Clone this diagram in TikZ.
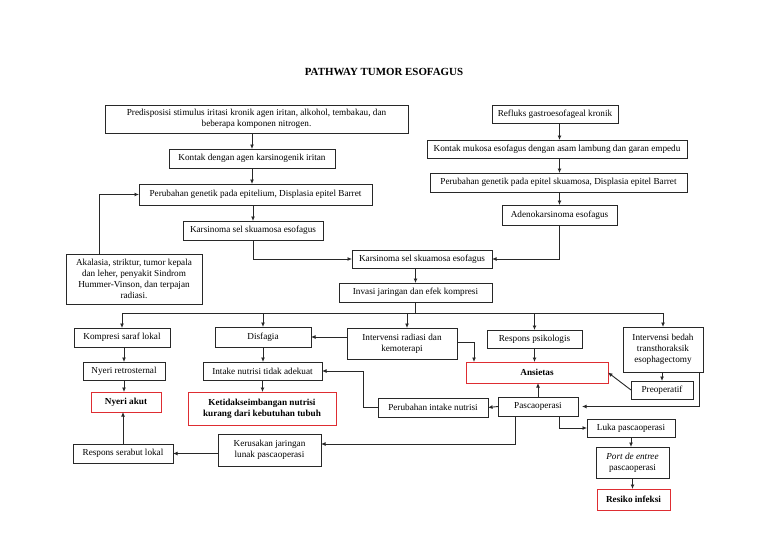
\documentclass[tikz,border=0pt]{standalone}
\usepackage{fontspec}
\setmainfont{Liberation Serif}
\usetikzlibrary{arrows.meta,calc}
\definecolor{redbox}{RGB}{222,45,50}
\definecolor{ln}{RGB}{40,40,40}
\begin{document}
\begin{tikzpicture}[x=1pt,y=-1pt,
  box/.style={draw=ln,line width=0.9pt,rectangle,inner sep=0pt,outer sep=0pt,align=center,font=\fontsize{9.2}{11}\selectfont},
  rbox/.style={box,draw=redbox,font=\fontsize{9.2}{11}\selectfont\bfseries},
  arr/.style={draw=ln,line width=0.9pt,-{Latex[length=4.5pt,width=4pt]}},
  ln/.style={draw=ln,line width=0.9pt}]
\useasboundingbox (0,0) rectangle (768,543);
\fill[white] (0,0) rectangle (768,543);
\node[font=\fontsize{10.9}{13}\selectfont\bfseries] (title) at (384,72) {PATHWAY TUMOR ESOFAGUS};
% left chain
\node[box,minimum width=303,minimum height=28] (A) at (256.5,119) {Predisposisi stimulus iritasi kronik agen iritan, alkohol, tembakau, dan\\beberapa komponen nitrogen.};
\node[box,minimum width=166,minimum height=19] (B) at (252,158.5) {Kontak dengan agen karsinogenik iritan};
\node[box,minimum width=233,minimum height=21] (C) at (255.5,194.5) {Perubahan genetik pada epitelium, Displasia epitel Barret};
\node[box,minimum width=140,minimum height=19] (D) at (253,230.5) {Karsinoma sel skuamosa esofagus};
\node[box,minimum width=136,minimum height=50] (E) at (134,279) {Akalasia, striktur, tumor kepala\\dan leher, penyakit Sindrom\\Hummer-Vinson, dan terpajan\\radiasi.};
% right chain
\node[box,minimum width=126,minimum height=18] (H) at (555,114) {Refluks gastroesofageal kronik};
\node[box,minimum width=260,minimum height=18] (I) at (557,149) {Kontak mukosa esofagus dengan asam lambung dan garan empedu};
\node[box,minimum width=257,minimum height=19] (J) at (558.5,182.5) {Perubahan genetik pada epitel skuamosa, Displasia epitel Barret};
\node[box,minimum width=115,minimum height=20] (K) at (559.5,215) {Adenokarsinoma esofagus};
% middle
\node[box,minimum width=140,minimum height=18] (F) at (422,259) {Karsinoma sel skuamosa esofagus};
\node[box,minimum width=153,minimum height=19] (G) at (415.5,292.5) {Invasi jaringan dan efek kompresi};
% row
\node[box,minimum width=96,minimum height=19] (L1) at (122,337.5) {Kompresi saraf lokal};
\node[box,minimum width=96,minimum height=20] (L2) at (263,337) {Disfagia};
\node[box,minimum width=110,minimum height=31] (L3) at (402,343.5) {Intervensi radiasi dan\\kemoterapi};
\node[box,minimum width=95,minimum height=18] (L4) at (534.5,339) {Respons psikologis};
\node[box,minimum width=80,minimum height=45] (L5) at (663,349.5) {Intervensi bedah\\transthoraksik\\esophagectomy};
% lower
\node[box,minimum width=82,minimum height=18] (NR) at (124,371) {Nyeri retrosternal};
\node[rbox,minimum width=70,minimum height=20] (NA) at (126,402) {Nyeri akut};
\node[box,minimum width=100,minimum height=19] (RS) at (123,453.5) {Respons serabut lokal};
\node[box,minimum width=119,minimum height=18] (IN) at (262.5,371) {Intake nutrisi tidak adekuat};
\node[rbox,minimum width=148,minimum height=33] (KT) at (262,408.5) {Ketidakseimbangan nutrisi\\kurang dari kebutuhan tubuh};
\node[box,minimum width=103,minimum height=32] (KR) at (269.5,450) {Kerusakan jaringan\\lunak pascaoperasi};
\node[rbox,minimum width=142,minimum height=21] (AN) at (537,372.5) {Ansietas};
\node[box,minimum width=62,minimum height=18] (PR) at (662,390) {Preoperatif};
\node[box,minimum width=80,minimum height=19] (PA) at (538,406.5) {Pascaoperasi};
\node[box,minimum width=110,minimum height=19] (PI) at (433,407.5) {Perubahan intake nutrisi};
\node[box,minimum width=88,minimum height=18] (LU) at (631,428) {Luka pascaoperasi};
\node[box,minimum width=73,minimum height=31] (PO) at (632.5,462.5) {\textit{Port de entree}\\pascaoperasi};
\node[rbox,minimum width=73,minimum height=21] (RI) at (633.5,499.5) {Resiko infeksi};
% connectors left chain
\draw[arr] (B.north |- A.south) -- (B.north);
\draw[arr] (B.south) -- (B.south |- C.north);
\draw[arr] (D.north |- C.south) -- (D.north);
\draw[arr] (D.south) |- (F.west);
\draw[arr] ([xshift=-35pt]E.north) |- (C.west);
% right chain
\draw[arr] (K.north |- H.south) -- (K.north |- I.north);
\draw[arr] (K.north |- I.south) -- (K.north |- J.north);
\draw[arr] (K.north |- J.south) -- (K.north);
\draw[arr] (K.south) |- (F.east);
\draw[arr] (G.north |- F.south) -- (G.north);
% bus
\coordinate (bus) at (416,313);
\draw[ln] (G.south) -- (G.south |- bus);
\draw[ln] (L1.north |- bus) -- (L5.north |- bus);
\draw[arr] (L1.north |- bus) -- (L1.north);
\draw[arr] (L2.north |- bus) -- (L2.north);
\draw[arr] ([xshift=5pt]L3.north |- bus) -- ([xshift=5pt]L3.north);
\draw[arr] (L4.north |- bus) -- (L4.north);
\draw[arr] (L5.north |- bus) -- (L5.north);
% row connections
\draw[arr] ([yshift=6.5pt]L3.west) -- ([yshift=6.5pt]L3.west -| L2.east);
\draw[arr] ([yshift=1.5pt]L3.east) -| ([xshift=-63pt]AN.north);
\draw[arr] (L4.south) -- (L4.south |- AN.north);
\draw[arr] (PR.north |- L5.south) -- (PR.north);
\draw[arr] (PR.west) -- (AN.east);
\draw[arr,shorten >=4pt] ([xshift=36pt]L5.south) |- (PA.east);
\draw[arr] (PA.north) -- (PA.north |- AN.south);
\draw[arr] (PA.west) -- (PI.east);
\draw[arr] (PI.west) -- ++(-15,0) |- (IN.east);
\draw[arr] ([xshift=-23pt]PA.south) |- ([yshift=6pt]KR.east);
\draw[arr] (RS.east -| KR.west) -- (RS.east);
\draw[arr] (RS.north) -- (RS.north |- NA.south);
\draw[arr] (NR.north |- L1.south) -- (NR.north);
\draw[arr] (NR.south) -- (NR.south |- NA.north);
\draw[arr] (L2.south) -- (L2.south |- IN.north);
\draw[arr] (IN.south) -- (IN.south |- KT.north);
\draw[arr] ([xshift=21pt]PA.south) |- (LU.west);
\draw[arr] (LU.south) -- (LU.south |- PO.north);
\draw[arr] (PO.south) -- (PO.south |- RI.north);
\end{tikzpicture}
\end{document}
